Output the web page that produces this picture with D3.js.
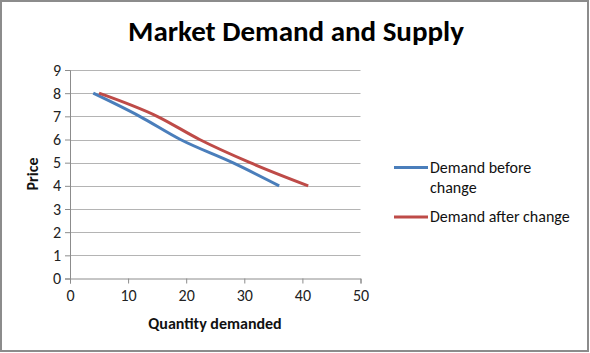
<!DOCTYPE html>
<html><head><meta charset="utf-8">
<script src="https://cdn.jsdelivr.net/npm/d3@7"></script>
<style>
html,body{margin:0;padding:0;background:#fff;}
svg{display:block;font-family:Carlito,Lato,"Open Sans",sans-serif;}
</style></head>
<body>
<svg id="chart" width="590" height="353"></svg>
<script>
const titleText = "Market Demand and Supply";
const xLabel = "Quantity demanded";
const yLabel = "Price";
const seriesNames = ["Demand before change", "Demand after change"];
const beforeQty = [4, 12, 19, 28, 36];
const beforePrice = [8, 7, 6, 5, 4];
const afterQty = [5, 15, 22.3, 31, 41];
const afterPrice = [8, 7, 6, 5, 4];
const xTicks = [0, 10, 20, 30, 40, 50];
const yTicks = [0, 1, 2, 3, 4, 5, 6, 7, 8, 9];
const colors = ["#4a7ebb", "#be4b48"];

const svg = d3.select("#chart");
svg.append("rect").attr("x", 1).attr("y", 1).attr("width", 587).attr("height", 350)
  .attr("fill", "#fff").attr("stroke", "#8c8c8c").attr("stroke-width", 2);

const x = d3.scaleLinear().domain([0, 50]).range([70, 360.5]);
const y = d3.scaleLinear().domain([0, 9]).range([278.5, 70]);

svg.append("g").selectAll("line").data(yTicks.filter(d => d > 0)).join("line")
  .attr("x1", x(0)).attr("x2", x(50)).attr("y1", d => Math.round(y(d)) + 0.5).attr("y2", d => Math.round(y(d)) + 0.5)
  .attr("stroke", "#b4b4b4").attr("stroke-width", 1);

const yAxis = svg.append("g").attr("transform", `translate(${x(0)},0)`)
  .call(d3.axisLeft(y).tickValues(yTicks).tickSize(5).tickPadding(4).tickFormat(d3.format("d")));
const xAxis = svg.append("g").attr("transform", `translate(0,${y(0)})`)
  .call(d3.axisBottom(x).tickValues(xTicks).tickSize(5).tickPadding(6).tickFormat(d3.format("d")));
[xAxis, yAxis].forEach(a => {
  a.select(".domain").attr("stroke", "#8c8c8c");
  a.selectAll(".tick line").attr("stroke", "#8c8c8c");
  a.selectAll("text").attr("font-size", 16).attr("fill", "#222").attr("font-family", "Carlito,Lato,sans-serif");
});

const line = d3.line().x(d => x(d[0])).y(d => y(d[1])).curve(d3.curveMonotoneX);
const series = [
  beforeQty.map((q, i) => [q, beforePrice[i]]),
  afterQty.map((q, i) => [q, afterPrice[i]])
];
series.forEach((s, i) => {
  svg.append("path").datum(s).attr("d", line).attr("fill", "none")
    .attr("stroke", colors[i]).attr("stroke-width", 3);
});

svg.append("text").attr("x", 296).attr("y", 41).attr("text-anchor", "middle")
  .attr("font-size", 29).attr("font-weight", "bold").attr("fill", "#000").text(titleText);
svg.append("text").attr("x", 215).attr("y", 329).attr("text-anchor", "middle")
  .attr("font-size", 16).attr("font-weight", "bold").attr("fill", "#111").text(xLabel);
svg.append("text").attr("transform", "translate(38,174) rotate(-90)").attr("text-anchor", "middle")
  .attr("font-size", 16).attr("font-weight", "bold").attr("fill", "#111").text(yLabel);

const leg = [
  {y: 167.5, lines: ["Demand before", "change"]},
  {y: 217, lines: ["Demand after change"]}
];
leg.forEach((l, i) => {
  svg.append("line").attr("x1", 394).attr("x2", 428).attr("y1", l.y).attr("y2", l.y)
    .attr("stroke", colors[i]).attr("stroke-width", 3);
  l.lines.forEach((t, j) => {
    svg.append("text").attr("x", 430).attr("y", l.y + 5 + j * 20)
      .attr("font-size", 16).attr("fill", "#111").text(t);
  });
});
</script>
</body></html>
